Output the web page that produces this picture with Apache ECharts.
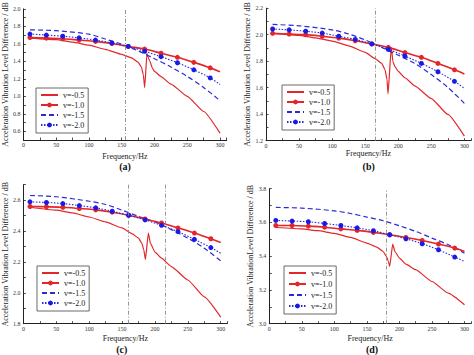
<!DOCTYPE html>
<html><head><meta charset="utf-8">
<script src="https://cdn.jsdelivr.net/npm/echarts@6/dist/echarts.min.js"></script>
<style>html,body{margin:0;padding:0;background:#fff}#c{width:474px;height:355px}</style>
</head><body><div id="c"></div>
<script>
// ---------------- data ----------------
const seriesNames = ['v=-0.5', 'v=-1.0', 'v=-1.5', 'v=-2.0'];
const seriesHasMarker = [false, true, false, true];
const panelLabels = ['(a)', '(b)', '(c)', '(d)'];
const xTitle = 'Frequency/Hz';
const yTitles = [
  'Acceleration Vibration Level Difference / dB',
  'Acceleration Vibration Level Difference / dB',
  'Acceleration Vibration Level Difference / dB',
  'Acceleration VibrationLevel Difference / dB'
];
const yRanges = [[0.5, 2.0], [1.2, 2.2], [1.8, 2.7], [3.0, 3.8]];
const xRange = [0, 310];
const refLines = [[155], [165], [160, 215], [180]];

const markerFreq = [10, 35, 60, 85, 110, 135, 160, 185, 210, 235, 260, 285, 300];
const dashFreq = [10, 50, 100, 125, 150, 175, 200, 225, 250, 275, 300];

// panel (a)
const a_resFreq = [10, 50, 75, 100, 125, 150, 165, 175, 180, 183, 185, 188.5, 190, 193, 197, 200, 210, 225, 250, 275, 300];
const a_v05 = [1.665, 1.647, 1.62, 1.585, 1.537, 1.48, 1.44, 1.39, 1.335, 1.245, 1.10, 1.49, 1.45, 1.40, 1.32, 1.285, 1.225, 1.14, 1.0, 0.826, 0.578];
const a_v10 = [1.672, 1.665, 1.658, 1.643, 1.628, 1.603, 1.57, 1.54, 1.493, 1.446, 1.388, 1.325, 1.28];
const a_v15 = [1.76, 1.75, 1.71, 1.655, 1.595, 1.52, 1.43, 1.336, 1.227, 1.10, 0.95];
const a_v20 = [1.712, 1.70, 1.687, 1.668, 1.643, 1.61, 1.57, 1.515, 1.453, 1.384, 1.303, 1.21, 1.135];

// panel (b)
const b_resFreq = [10, 50, 75, 100, 125, 150, 165, 175, 180, 183, 184.5, 189.5, 192, 195, 200, 210, 225, 250, 275, 300];
const b_v05 = [2.01, 1.995, 1.976, 1.952, 1.916, 1.867, 1.819, 1.783, 1.735, 1.663, 1.554, 1.904, 1.795, 1.759, 1.723, 1.675, 1.614, 1.518, 1.398, 1.234];
const b_v10 = [2.01, 2.005, 2.0, 1.988, 1.974, 1.954, 1.93, 1.904, 1.865, 1.829, 1.783, 1.735, 1.704];
const b_v15 = [2.077, 2.067, 2.036, 2.005, 1.96, 1.903, 1.845, 1.783, 1.699, 1.602, 1.482];
const b_v20 = [2.043, 2.036, 2.026, 2.012, 1.988, 1.964, 1.93, 1.889, 1.839, 1.783, 1.72, 1.648, 1.595];

// panel (c)
const c_resFreq = [10, 50, 75, 100, 125, 150, 165, 175, 180, 183, 185.5, 190, 193, 200, 210, 225, 250, 275, 300];
const c_v05 = [2.554, 2.535, 2.517, 2.491, 2.459, 2.42, 2.383, 2.354, 2.322, 2.278, 2.217, 2.387, 2.322, 2.263, 2.224, 2.17, 2.083, 1.974, 1.843];
const c_v10 = [2.559, 2.557, 2.554, 2.546, 2.537, 2.522, 2.502, 2.478, 2.452, 2.42, 2.387, 2.35, 2.326];
const c_v15 = [2.63, 2.622, 2.593, 2.572, 2.535, 2.495, 2.459, 2.409, 2.354, 2.289, 2.207];
const c_v20 = [2.589, 2.585, 2.578, 2.565, 2.55, 2.528, 2.502, 2.472, 2.437, 2.396, 2.346, 2.293, 2.256];

// panel (d)
const d_resFreq = [10, 50, 75, 100, 125, 150, 165, 175, 180, 183, 185, 189.7, 193, 200, 210, 225, 250, 275, 300];
const d_v05 = [3.57, 3.562, 3.551, 3.535, 3.511, 3.478, 3.454, 3.428, 3.399, 3.369, 3.339, 3.472, 3.428, 3.389, 3.353, 3.32, 3.25, 3.181, 3.112];
const d_v10 = [3.582, 3.582, 3.578, 3.572, 3.562, 3.553, 3.541, 3.527, 3.511, 3.493, 3.472, 3.448, 3.428];
const d_v15 = [3.689, 3.685, 3.669, 3.653, 3.632, 3.61, 3.58, 3.547, 3.507, 3.468, 3.418];
const d_v20 = [3.612, 3.608, 3.604, 3.594, 3.582, 3.568, 3.551, 3.527, 3.503, 3.474, 3.438, 3.395, 3.369];

// ---------------- layout / style ----------------
const FONT = 'Liberation Serif';
const RED = '#e3262a';
const BLUE = '#2b2bd6';
const grids = [
  {left: 21, top: 3.5, width: 205.6, height: 136.5},
  {left: 266, top: 3.3, width: 206, height: 137.4},
  {left: 21.7, top: 184.7, width: 205.6, height: 139},
  {left: 269.3, top: 188.7, width: 204.3, height: 135}
];
const legendPos = [{left: 36, top: 88}, {left: 282, top: 85}, {left: 37, top: 266}, {left: 284, top: 266}];
const legendGap = [2, 2, 2, 3];
const xNameGap = [12, 8, 10.5, 10.5];
const yNameGap = [12, 14, 12.5, 12.5];
const labelPos = [[125, 166.5], [368.7, 166], [121.7, 349], [372, 349]];

const panels = [
  {res: [a_resFreq, a_v05], v10: a_v10, v15: a_v15, v20: a_v20},
  {res: [b_resFreq, b_v05], v10: b_v10, v15: b_v15, v20: b_v20},
  {res: [c_resFreq, c_v05], v10: c_v10, v15: c_v15, v20: c_v20},
  {res: [d_resFreq, d_v05], v10: d_v10, v15: d_v15, v20: d_v20}
];

function pairs(xs, ys) { return xs.map((x, i) => [x, ys[i]]); }
function markerPairs(ys) {
  return markerFreq.map((x, i) => i === markerFreq.length - 1
    ? {value: [x, ys[i]], symbol: 'none'}
    : [x, ys[i]]);
}

const legendItems = seriesNames.map((n, k) => seriesHasMarker[k]
  ? {name: n}
  : {name: n, itemStyle: {opacity: 0}});

const option = {
  animation: false,
  backgroundColor: '#fff',
  textStyle: {fontFamily: FONT},
  grid: grids.map(g => Object.assign({containLabel: false}, g)),
  xAxis: grids.map((g, i) => ({
    gridIndex: i, type: 'value', min: xRange[0], max: xRange[1], interval: 25,
    name: xTitle, nameLocation: 'middle', nameGap: xNameGap[i],
    nameTextStyle: {fontFamily: FONT, fontSize: 8, color: '#222'},
    axisLine: {show: true, onZero: false, lineStyle: {color: '#222', width: 1}},
    axisTick: {show: true, inside: true, length: 2.5, lineStyle: {color: '#222', width: 0.8}},
    axisLabel: {fontFamily: FONT, fontSize: 6, color: '#333', margin: 2,
      formatter: v => (Math.round(v) % 50 === 0 && v <= 300) ? String(Math.round(v)) : ''},
    splitLine: {show: false}
  })),
  yAxis: grids.map((g, i) => ({
    gridIndex: i, type: 'value', min: yRanges[i][0], max: yRanges[i][1], interval: 0.1,
    name: yTitles[i], nameLocation: 'middle', nameGap: yNameGap[i],
    nameTextStyle: {fontFamily: FONT, fontSize: 8, color: '#222'},
    axisLine: {show: true, onZero: false, lineStyle: {color: '#222', width: 1}},
    axisTick: {show: true, inside: true, length: 2.5, lineStyle: {color: '#222', width: 0.8}},
    axisLabel: {fontFamily: FONT, fontSize: 6, color: '#333', margin: 3,
      formatter: v => (Math.round(v * 10) % 2 === 0) ? v.toFixed(1) : ''},
    splitLine: {show: false}
  })),
  legend: grids.map((g, i) => ({
    data: legendItems, orient: 'vertical',
    left: legendPos[i].left, top: legendPos[i].top,
    itemWidth: 17, itemHeight: 6, itemGap: legendGap[i],
    padding: [3, 4, 4, 4],
    borderColor: '#444', borderWidth: 0.8, backgroundColor: '#fff',
    textStyle: {fontFamily: FONT, fontSize: 8, color: '#222'},
    selectedMode: false
  })),
  graphic: labelPos.map((p, i) => ({
    type: 'text', x: p[0], y: p[1],
    style: {text: panelLabels[i], font: 'bold 10px "Liberation Serif"', fill: '#111',
      textAlign: 'center', textVerticalAlign: 'middle'}
  })),
  series: []
};

panels.forEach((p, i) => {
  option.series.push({
    name: seriesNames[0], type: 'line', xAxisIndex: i, yAxisIndex: i,
    data: pairs(p.res[0], p.res[1]), symbol: 'none', smooth: 0.15, smoothMonotone: 'x',
    lineStyle: {color: RED, width: 1.2}, itemStyle: {color: RED}, z: 3,
    markLine: {silent: true, symbol: 'none', label: {show: false},
      lineStyle: {color: '#8a8a8a', type: [4, 2, 1, 2], width: 0.9},
      data: refLines[i].map(x => ({xAxis: x}))}
  });
  option.series.push({
    name: seriesNames[1], type: 'line', xAxisIndex: i, yAxisIndex: i,
    data: markerPairs(p.v10), symbol: 'circle', symbolSize: 5, smooth: 0.3,
    lineStyle: {color: RED, width: 1.6}, itemStyle: {color: RED}, z: 4
  });
  option.series.push({
    name: seriesNames[2], type: 'line', xAxisIndex: i, yAxisIndex: i,
    data: pairs(dashFreq, p.v15), symbol: 'none', smooth: 0.3,
    lineStyle: {color: BLUE, width: 1.2, type: [5, 3]}, itemStyle: {color: BLUE}, z: 3
  });
  option.series.push({
    name: seriesNames[3], type: 'line', xAxisIndex: i, yAxisIndex: i,
    data: markerPairs(p.v20), symbol: 'circle', symbolSize: 5, smooth: 0.3,
    lineStyle: {color: BLUE, width: 1.1, type: [1.5, 1.5]}, itemStyle: {color: '#1a1ae6'}, z: 4
  });
});

const chart = echarts.init(document.getElementById('c'), null, {renderer: 'svg', width: 474, height: 355});
chart.setOption(option);
</script>
</body></html>
